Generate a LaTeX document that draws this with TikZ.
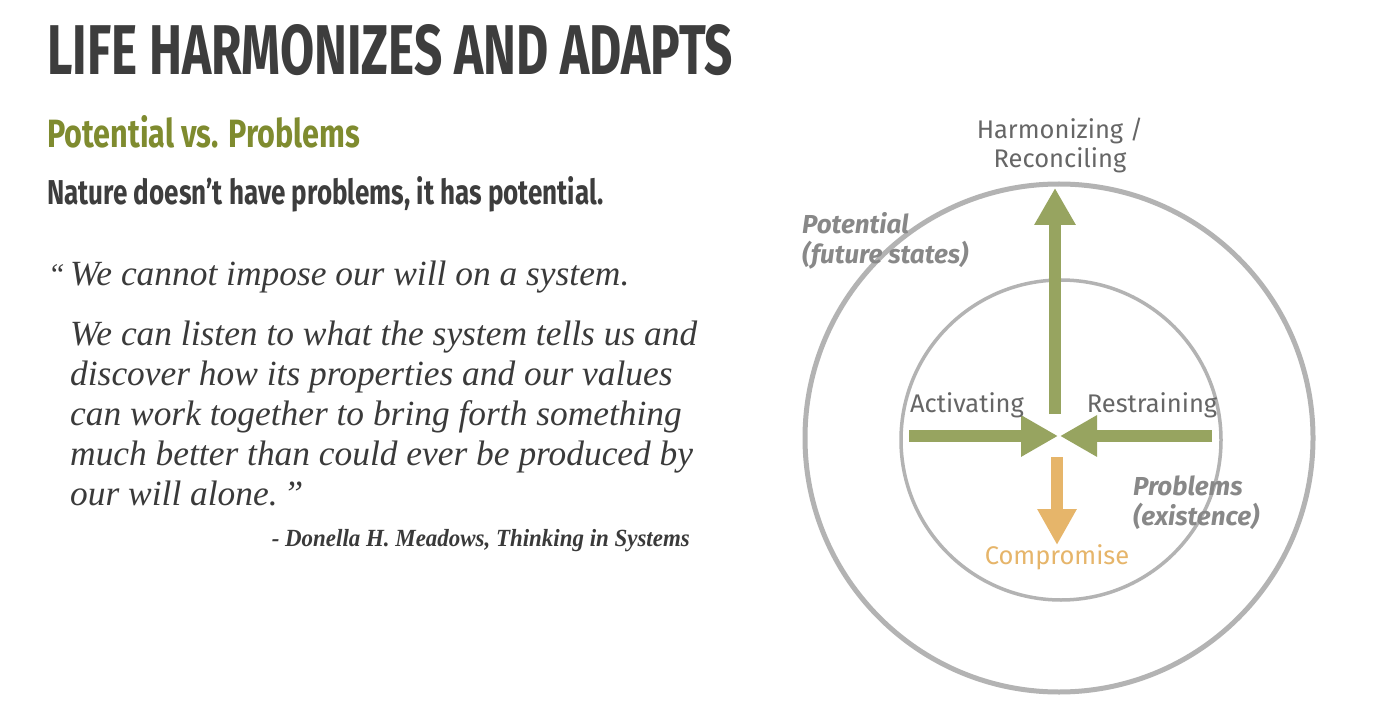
\documentclass[tikz,border=0pt]{standalone}
\usepackage{fontspec}
\usetikzlibrary{arrows.meta}
\newfontfamily\firasans{Fira Sans}
\newfontfamily\qfont{Liberation Serif}
\newfontfamily\afont[FakeStretch=0.93]{Liberation Serif}
\definecolor{titlegray}{HTML}{3D3D3D}
\definecolor{olive}{HTML}{7F8B2F}
\definecolor{arrowgreen}{HTML}{97A460}
\definecolor{arroworange}{HTML}{E6B56A}
\definecolor{circgray}{HTML}{B3B3B3}
\definecolor{labelgray}{HTML}{666666}
\definecolor{italgray}{HTML}{888888}
\definecolor{quotegray}{HTML}{3A3A3A}
\tikzset{
  quoteline/.style={anchor=base west, inner sep=0pt, text=quotegray,
    font=\qfont\itshape\fontsize{35.4}{40}\selectfont},
  diaglabel/.style={inner sep=0pt, text=labelgray, font=\firasans\fontsize{25.5}{29}\selectfont},
  zonelabel/.style={inner sep=0pt, text=italgray, anchor=west, align=left,
    font=\firasans\bfseries\itshape\fontsize{26}{30}\selectfont},
  ring/.style={draw=circgray},
  fatgreen/.style={draw=arrowgreen, line width=12.5pt,
    -{Triangle[width=39pt,length=37pt,fill=arrowgreen]}},
  fatorange/.style={draw=arroworange, line width=12.5pt,
    -{Triangle[width=37pt,length=36pt,fill=arroworange]}}
}
\begin{document}
\begin{tikzpicture}[x=1pt,y=-1pt]
\useasboundingbox (0,0) rectangle (1400,703);
\fill[white] (0,0) rectangle (1400,703);

% headings
\node (title) [anchor=base west, inner sep=0pt, text=titlegray] at (47,75)
  {\resizebox{686pt}{50pt}{\firasans\bfseries LIFE HARMONIZES AND ADAPTS}};
\node (sub) [anchor=base west, inner sep=0pt, text=olive] at (47,148)
  {\resizebox{313pt}{32pt}{\firasans\bfseries Potential vs. Problems}};
\node (nature) [anchor=base west, inner sep=0pt, text=titlegray] at (47,205)
  {\resizebox{556pt}{28pt}{\firasans\bfseries Nature doesn’t have problems, it has potential.}};

% quote
\node (oq) [anchor=base west, inner sep=0pt, text=quotegray,
  font=\qfont\itshape\fontsize{30}{30}\selectfont] at (48,285) {“};
\node (q1) [quoteline] at (70,286) {We cannot impose our will on a system.};
\node (q2) [quoteline] at (70,345) {We can listen to what the system tells us and};
\node (q3) [quoteline] at (70,385) {discover how its properties and our values};
\node (q4) [quoteline] at (70,425) {can work together to bring forth something};
\node (q5) [quoteline] at (70,465) {much better than could ever be produced by};
\node (q6) [quoteline] at (70,505) {our will alone.\,”};
\node (attr) [anchor=base east, inner sep=0pt, text=quotegray] at (690,546)
  {\resizebox{418pt}{!}{\afont\bfseries\itshape\fontsize{22}{24}\selectfont - Donella H. Meadows, Thinking in Systems}};

% circles
\node (outer) [ring, circle, line width=5pt, minimum size=508pt, inner sep=0pt] at (1059,438) {};
\node (inner) [ring, circle, line width=3.5pt, minimum size=320pt, inner sep=0pt] at (1061,440) {};

% arrow coordinates
\coordinate (upstart) at (1055,414);
\coordinate (uptip) at (1055,188);
\coordinate (lstart) at (909,436);
\coordinate (ltip) at (1058,436);
\coordinate (rstart) at (1212,436);
\coordinate (rtip) at (1060,436);
\coordinate (dstart) at (1057,457);
\coordinate (dtip) at (1057,545);

\draw[fatgreen] (upstart) -- (uptip);
\draw[fatgreen] (lstart) -- (ltip);
\draw[fatgreen] (rstart) -- (rtip);
\draw[fatorange] (dstart) -- (dtip);

% labels
\node (harm) [diaglabel, align=center] at (1060,145) {Harmonizing /\\Reconciling};
\node (act) [diaglabel] at (967,405) {Activating};
\node (res) [diaglabel] at (1152,405) {Restraining};
\node (comp) [diaglabel, text=arroworange] at (1057,557) {Compromise};
\node (pot) [zonelabel] at (802,241) {Potential\\(future states)};
\node (prob) [zonelabel] at (1133,503) {Problems\\(existence)};
\end{tikzpicture}
\end{document}
